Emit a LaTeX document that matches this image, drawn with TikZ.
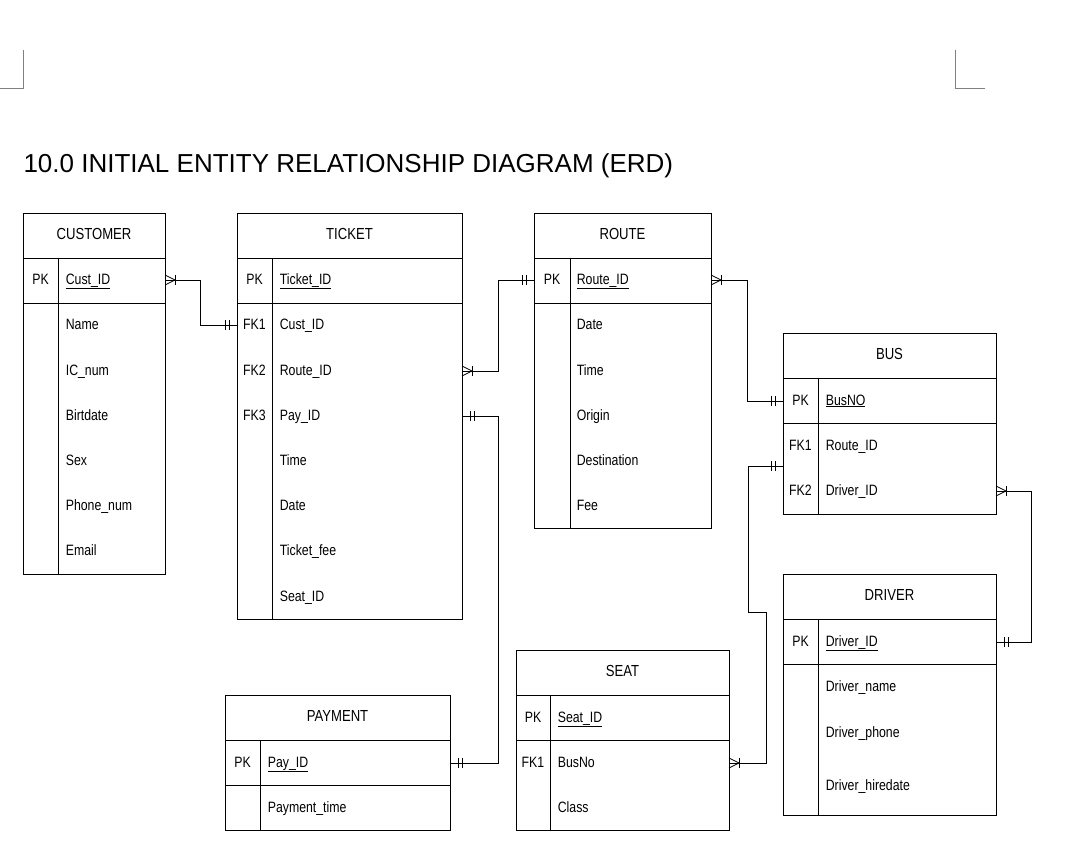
\documentclass[tikz,border=0pt]{standalone}
\usepackage{fontspec}
\setmainfont{Liberation Sans}
\usetikzlibrary{calc}
\begin{document}
\begin{tikzpicture}[x=1pt,y=-1pt,line width=1pt,
  hdr/.style={text height=11pt,text depth=3pt,font=\fontsize{16}{16}\selectfont\addfontfeature{FakeStretch=0.82}},
  att/.style={anchor=west,text height=11pt,text depth=3pt,font=\fontsize{15}{15}\selectfont\addfontfeature{FakeStretch=0.82}},
  key/.style={text height=11pt,text depth=3pt,font=\fontsize{15}{15}\selectfont\addfontfeature{FakeStretch=0.82}},
  conn/.style={line width=1pt}]
\useasboundingbox[fill=white] (0,0) rectangle (1080,867);
% corner marks
\draw[line width=0.6pt,gray] (23,50) -- (23,88) -- (0,88);
\draw[line width=0.6pt,gray] (955,50) -- (955,88) -- (985,88);
\node[anchor=west,font=\fontsize{26}{26}\selectfont,inner sep=0] (title) at (23,166) {10.0 INITIAL ENTITY RELATIONSHIP DIAGRAM (ERD)};
% table macro: #1 left, #2 right, #3 keycol x, #4 top, #5 bottom, #6 name, #7 id
\newcommand{\erdtable}[7]{%
  \draw (#1,#4) rectangle (#2,#5);
  \draw (#1,#4+45) -- (#2,#4+45);
  \draw (#1,#4+90) -- (#2,#4+90);
  \draw (#3,#4+45) -- (#3,#5);
  \node[hdr] (#7) at ({(#1+#2)/2},#4+22.5) {#6};
}
\erdtable{23}{165}{58}{213}{574}{CUSTOMER}{cust}
\erdtable{237}{462}{272}{213}{619}{TICKET}{tick}
\erdtable{534}{711}{570}{213}{528}{ROUTE}{route}
\erdtable{783}{996}{818}{333}{514}{BUS}{bus}
\erdtable{783}{996}{818}{574}{815}{DRIVER}{drv}
\erdtable{516}{729}{550}{650}{830}{SEAT}{seat}
\erdtable{225}{450}{260}{695}{830}{PAYMENT}{pay}
% CUSTOMER
\node[key] (c0) at (40.5,280) {PK};
\node[att] (c1) at (62,280) {\underline{Cust\_ID}};
\node[att] (c2) at (62,325) {Name};
\node[att] (c3) at (62,371) {IC\_num};
\node[att] (c4) at (62,416) {Birtdate};
\node[att] (c5) at (62,461) {Sex};
\node[att] (c6) at (62,506) {Phone\_num};
\node[att] (c7) at (62,551) {Email};
% TICKET
\node[key] (t0) at (254.5,280) {PK};
\node[att] (t1) at (276,280) {\underline{Ticket\_ID}};
\node[key] (tk1) at (254.5,325) {FK1};
\node[att] (t2) at (276,325) {Cust\_ID};
\node[key] (tk2) at (254.5,371) {FK2};
\node[att] (t3) at (276,371) {Route\_ID};
\node[key] (tk3) at (254.5,416) {FK3};
\node[att] (t4) at (276,416) {Pay\_ID};
\node[att] (t5) at (276,461) {Time};
\node[att] (t6) at (276,506) {Date};
\node[att] (t7) at (276,551) {Ticket\_fee};
\node[att] (t8) at (276,597) {Seat\_ID};
% ROUTE
\node[key] (r0) at (552,280) {PK};
\node[att] (r1) at (573,280) {\underline{Route\_ID}};
\node[att] (r2) at (573,325) {Date};
\node[att] (r3) at (573,371) {Time};
\node[att] (r4) at (573,416) {Origin};
\node[att] (r5) at (573,461) {Destination};
\node[att] (r6) at (573,506) {Fee};
% BUS
\node[key] (b0) at (800.5,401) {PK};
\node[att] (b1) at (822,401) {\underline{BusNO}};
\node[key] (bk1) at (800.5,446) {FK1};
\node[att] (b2) at (822,446) {Route\_ID};
\node[key] (bk2) at (800.5,491) {FK2};
\node[att] (b3) at (822,491) {Driver\_ID};
% DRIVER
\node[key] (d0) at (800.5,642) {PK};
\node[att] (d1) at (822,642) {\underline{Driver\_ID}};
\node[att] (d2) at (822,687) {Driver\_name};
\node[att] (d3) at (822,733) {Driver\_phone};
\node[att] (d4) at (822,786) {Driver\_hiredate};
% SEAT
\node[key] (s0) at (533,718) {PK};
\node[att] (s1) at (554,718) {\underline{Seat\_ID}};
\node[key] (sk1) at (533,763) {FK1};
\node[att] (s2) at (554,763) {BusNo};
\node[att] (s3) at (554,808) {Class};
% PAYMENT
\node[key] (p0) at (242.5,763) {PK};
\node[att] (p1) at (264,763) {\underline{Pay\_ID}};
\node[att] (p2) at (264,808) {Payment\_time};
% anchor coordinates
\coordinate (custR) at (165,280);
\coordinate (tickL) at (237,325);
\coordinate (tickR1) at (462,371);
\coordinate (routeL) at (534,280);
\coordinate (tickR2) at (462,416);
\coordinate (payR) at (450,763);
\coordinate (routeR) at (711,280);
\coordinate (busL) at (783,401);
\coordinate (busL2) at (783,466);
\coordinate (seatR) at (729,763);
\coordinate (busR) at (996,491);
\coordinate (drvR) at (996,642);
% connectors
\draw[conn] (custR) -- ++(35,0) |- (tickL);
\draw[conn] (tickR1) -- ++(36,0) |- (routeL);
\draw[conn] (tickR2) -- ++(36,0) |- (payR);
\draw[conn] (routeR) -- ++(36,0) |- (busL);
\draw[conn] (busL2) -- (748,466) -- (748,612) -- (766,612) |- (seatR);
\draw[conn] (busR) -- ++(35,0) |- (drvR);
% markers
\newcommand{\crow}[2]{% point, direction (+1/-1)
  \draw[line width=0.8pt] ($(#1)+(#2*10,-5)$) -- ($(#1)+(#2*10,5)$);
  \draw[line width=0.8pt] ($(#1)+(0,-5)$) -- ($(#1)+(#2*10,0)$) -- ($(#1)+(0,5)$);
}
\newcommand{\bars}[2]{%
  \draw[line width=0.8pt] ($(#1)+(#2*8,-5)$) -- ($(#1)+(#2*8,5)$);
  \draw[line width=0.8pt] ($(#1)+(#2*12,-5)$) -- ($(#1)+(#2*12,5)$);
}
\crow{custR}{1}
\bars{tickL}{-1}
\crow{tickR1}{1}
\bars{routeL}{-1}
\bars{tickR2}{1}
\bars{payR}{1}
\crow{routeR}{1}
\bars{busL}{-1}
\bars{busL2}{-1}
\crow{seatR}{1}
\crow{busR}{1}
\bars{drvR}{1}
\end{tikzpicture}
\end{document}
